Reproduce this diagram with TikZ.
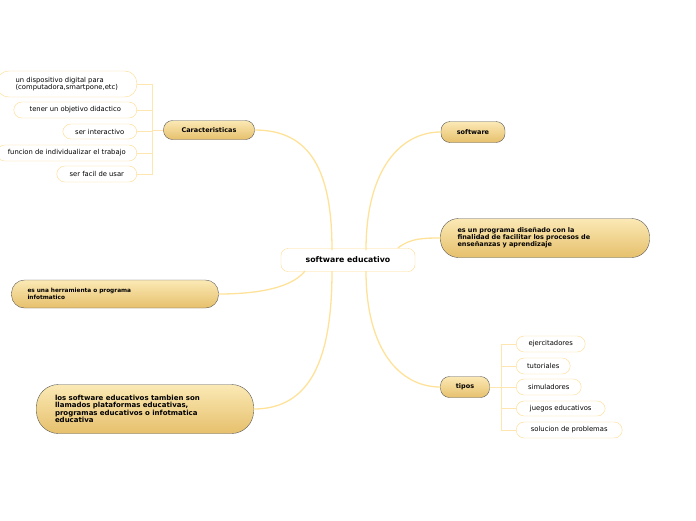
\documentclass[tikz,border=0pt]{standalone}
\usepackage{fontspec}
\setmainfont{DejaVu Sans}
\definecolor{gtop}{HTML}{FBE9B5}
\definecolor{gbot}{HTML}{E6C06C}
\definecolor{lb}{HTML}{FFDB8E}
\definecolor{tr}{HTML}{FFE29A}
\begin{document}
\begin{tikzpicture}[x=1pt,y=-1pt,
 main/.style={draw=black!65,rounded corners=9pt,top color=gtop,bottom color=gbot,font=\bfseries\fontsize{6.5}{7}\selectfont,align=left,inner sep=0pt},
 leaf/.style={draw=lb,fill=white,rounded corners=8pt,font=\fontsize{6.8}{7.2}\selectfont,align=left,inner sep=0pt},
 trunk/.style={draw=tr,line width=1.3pt},
 twig/.style={draw=lb!70,line width=0.6pt}]
\useasboundingbox (0,0) rectangle (696,520);
\begin{scope}
\clip (0,0) rectangle (696,520);
\node[draw=lb,fill=white,rounded corners=7pt,minimum width=134pt,minimum height=23pt,font=\bfseries\fontsize{7.8}{8}\selectfont] (c) at (348,260) {software educativo};
\node[main,minimum width=91pt,minimum height=19pt,align=center] (car) at (209,130) {Caracteristicas};
\node[main,minimum width=64pt,minimum height=21pt,align=center] (sw) at (473,132) {software};
\node[main,minimum width=209pt,minimum height=39pt,rounded corners=18pt,text width=175pt] (prog) at (545,238) {es un programa diseñado con la\\finalidad de facilitar los procesos de\\enseñanzas y aprendizaje};
\node[main,minimum width=49pt,minimum height=21pt,align=center] (tip) at (465,387) {tipos};
\node[main,minimum width=207pt,minimum height=28pt,rounded corners=13pt,text width=175pt,font=\bfseries\fontsize{5.8}{6.5}\selectfont] (her) at (115,294) {es una herramienta o programa\\infotmatico};
\node[main,minimum width=217pt,minimum height=49pt,rounded corners=22pt,text width=180pt,font=\bfseries\fontsize{7}{7.5}\selectfont] (los) at (145,409) {los software educativos tambien son\\llamados plataformas educativas,\\programas educativos o infotmatica\\educativa};
% left leaves
\node[leaf,anchor=east,minimum height=26pt,minimum width=140pt,rounded corners=12pt,inner xsep=4pt] (l1) at (137,84) {un dispositivo digital para\\(computadora,smartpone,etc)};
\node[leaf,anchor=east,minimum height=16pt,minimum width=123pt,align=center] (l2) at (137,110) {tener un objetivo didactico};
\node[leaf,anchor=east,minimum height=15pt,minimum width=74pt,align=center] (l3) at (137,131.5) {ser interactivo};
\node[leaf,anchor=east,minimum height=16pt,minimum width=140pt,align=right,inner xsep=4pt] (l4) at (137,153) {funcion de individualizar el trabajo};
\node[leaf,anchor=east,minimum height=16pt,minimum width=80pt,align=center] (l5) at (137,174) {ser facil de usar};
% right leaves
\node[leaf,anchor=west,minimum height=16pt,minimum width=69pt,align=center] (r1) at (516,344) {ejercitadores};
\node[leaf,anchor=west,minimum height=16pt,minimum width=54pt,align=center] (r2) at (516,366) {tutoriales};
\node[leaf,anchor=west,minimum height=16pt,minimum width=65pt,align=center] (r3) at (516,387) {simuladores};
\node[leaf,anchor=west,minimum height=15pt,minimum width=89pt,align=center] (r4) at (516,408.5) {juegos educativos};
\node[leaf,anchor=west,minimum height=16pt,minimum width=106pt,align=center] (r5) at (516,430) {solucion de problemas};
\end{scope}
% trunks
\draw[trunk] (332,250) .. controls (332,170) and (310,130) .. (car.east);
\draw[trunk] (305,271) .. controls (290,290) and (250,294) .. (her.east);
\draw[trunk] (332,271) .. controls (332,360) and (310,409) .. (los.east);
\draw[trunk] (366,250) .. controls (366,170) and (400,132) .. (sw.west);
\draw[trunk] (398,248) .. controls (410,238) and (425,238) .. (prog.west);
\draw[trunk] (366,271) .. controls (366,350) and (400,387) .. (tip.west);
% twigs left
\draw[twig] (car.west) -- (152,130);
\foreach \n in {l1,l2,l3,l4,l5}{\draw[twig] (152,130) |- (\n.east);}
% twigs right
\draw[twig] (tip.east) -- (501,387);
\foreach \n in {r1,r2,r3,r4,r5}{\draw[twig] (501,387) |- (\n.west);}
\end{tikzpicture}
\end{document}
